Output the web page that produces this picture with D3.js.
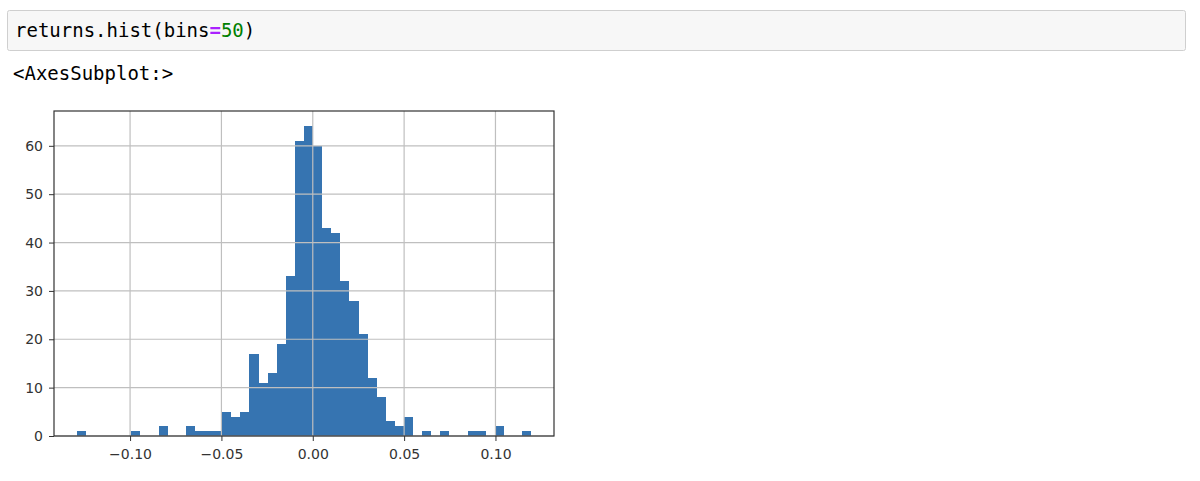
<!DOCTYPE html>
<html>
<head>
<meta charset="utf-8">
<script src="https://cdn.jsdelivr.net/npm/d3@7"></script>
<style>
    body { margin: 0; background: #fff; }
    .code { font-family: "DejaVu Sans Mono", monospace; font-size: 19px; }
    .tick text { font-family: "DejaVu Sans", sans-serif; font-size: 14px; fill: #333; }
    .tick line { stroke: #333; }
</style>
</head>
<body>
<svg class="chart"></svg>
<script>
// histogram counts, 50 bins
var binCounts = [1, 0, 0, 0, 0, 0, 1, 0, 0, 2,
                 0, 0, 2, 1, 1, 1, 5, 4, 5, 17,
                 11, 13, 19, 33, 61, 64, 60, 43, 42, 32,
                 28, 21, 12, 8, 3, 2, 4, 0, 1, 0,
                 1, 0, 0, 1, 1, 0, 2, 0, 0, 1];
var binMin = -0.1292;
var binMax = 0.1196;
var xTicks = [-0.10, -0.05, 0.00, 0.05, 0.10];
var yTicks = [0, 10, 20, 30, 40, 50, 60];

function show() {
    'use strict';

    var svg = d3.select(".chart")
        .attr("width", 1200)
        .attr("height", 481);

    // notebook input cell
    svg.append("rect")
        .attr("x", 7.5).attr("y", 10.5)
        .attr("width", 1178).attr("height", 40)
        .attr("rx", 2)
        .attr("fill", "#f7f7f7")
        .attr("stroke", "#cfcfcf");

    var code = svg.append("text")
        .attr("class", "code")
        .attr("x", 15).attr("y", 36.5)
        .attr("fill", "#000");
    code.append("tspan").text("returns.hist(bins");
    code.append("tspan").attr("fill", "#aa22ff").attr("font-weight", "bold").text("=");
    code.append("tspan").attr("fill", "#008000").text("50");
    code.append("tspan").text(")");

    svg.append("text")
        .attr("class", "code")
        .attr("x", 13).attr("y", 80)
        .attr("fill", "#000")
        .text("<AxesSubplot:>");

    // axes box
    var left = 54, right = 554, top = 111, bottom = 436;
    var binWidth = (binMax - binMin) / binCounts.length;
    var pad = (binMax - binMin) * 0.05;   // matplotlib default margins

    var x = d3.scaleLinear()
        .domain([binMin - pad, binMax + pad])
        .range([left, right]);
    var y = d3.scaleLinear()
        .domain([0, d3.max(binCounts) * 1.05])
        .range([bottom, top]);

    var bins = binCounts.map(function (c, i) {
        return { x0: binMin + i * binWidth, x1: binMin + (i + 1) * binWidth, count: c };
    });

    svg.append("g")
        .selectAll("rect")
        .data(bins.filter(d => d.count > 0))
        .enter().append("rect")
        .attr("x", d => x(d.x0))
        .attr("width", d => x(d.x1) - x(d.x0))
        .attr("y", d => y(d.count))
        .attr("height", d => y(0) - y(d.count))
        .attr("fill", "#3674b1")
        .attr("shape-rendering", "crispEdges");

    // grid on top of the bars
    var grid = svg.append("g").attr("stroke", "#bfbfbf").attr("stroke-width", 1.2);
    grid.selectAll(".vx").data(xTicks).enter().append("line")
        .attr("x1", d => x(d)).attr("x2", d => x(d))
        .attr("y1", top).attr("y2", bottom);
    grid.selectAll(".hy").data(yTicks).enter().append("line")
        .attr("x1", left).attr("x2", right)
        .attr("y1", d => y(d)).attr("y2", d => y(d));

    // axes
    var xAxis = d3.axisBottom(x).tickValues(xTicks).tickFormat(d3.format(".2f"))
        .tickSize(5).tickPadding(8);
    var yAxis = d3.axisLeft(y).tickValues(yTicks).tickFormat(d3.format("d"))
        .tickSize(5).tickPadding(6);

    svg.append("g").attr("transform", "translate(0," + bottom + ")").call(xAxis)
        .call(g => g.select(".domain").remove());
    svg.append("g").attr("transform", "translate(" + left + ",0)").call(yAxis)
        .call(g => g.select(".domain").remove());

    svg.append("rect")
        .attr("x", left).attr("y", top)
        .attr("width", right - left).attr("height", bottom - top)
        .attr("fill", "none")
        .attr("stroke", "#333")
        .attr("stroke-width", 1.2);
}
show();
</script>
</body>
</html>
